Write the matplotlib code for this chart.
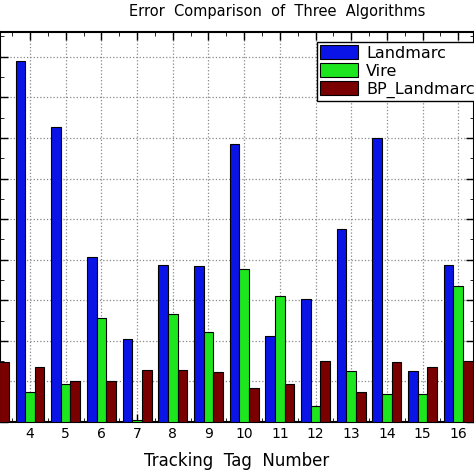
import numpy as np
import matplotlib.pyplot as plt
from matplotlib.ticker import MultipleLocator

tags = np.arange(3, 17)
landmarc = [np.nan, 8.9, 7.26, 4.07, 2.05, 3.88, 3.85, 6.84, 2.12, 3.04, 4.75, 7.0, 1.26, 3.88]
vire = [np.nan, 0.74, 0.94, 2.57, 0.04, 2.65, 2.22, 3.76, 3.1, 0.4, 1.26, 0.68, 0.68, 3.34]
bp_landmarc = [1.47, 1.35, 1.02, 1.02, 1.28, 1.29, 1.23, 0.85, 0.93, 1.51, 0.74, 1.48, 1.36, 1.51]

W, H = 474, 474
fig = plt.figure(figsize=(W / 100, H / 100), dpi=100)
ax = fig.add_axes([0, (H - 422) / H, 1, (422 - 32) / H])

w = 0.27
ax.bar(tags - w, landmarc, w, color='#0a14e6', edgecolor='black', linewidth=0.8, label='Landmarc', zorder=3)
ax.bar(tags, vire, w, color='#1ee61e', edgecolor='black', linewidth=0.8, label='Vire', zorder=3)
ax.bar(tags + w, bp_landmarc, w, color='#7a0000', edgecolor='black', linewidth=0.8, label='BP_Landmarc', zorder=3)

ax.set_xlim(3.16, 16.44)
ax.set_ylim(0, 9.61)
ax.set_xticks(np.arange(4, 17))
ax.xaxis.set_minor_locator(MultipleLocator(0.5))
ax.set_yticks(np.arange(0, 10))
ax.yaxis.set_minor_locator(MultipleLocator(0.5))
ax.tick_params(which='both', direction='in', top=True, right=True, labelsize=10)
ax.tick_params(which='major', length=6, width=1)
ax.tick_params(which='minor', length=3)
ax.set_yticklabels([])
ax.grid(True, which='major', linestyle=':', color='#888888', linewidth=0.9, zorder=0)
for s in ax.spines.values():
    s.set_linewidth(1.5)

ax.set_xlabel('Tracking  Tag  Number', fontsize=12, labelpad=8)
fig.text(0.585, 0.975, 'Error  Comparison  of  Three  Algorithms', ha='center', va='center', fontsize=10.5)

leg = ax.legend(loc='upper right', bbox_to_anchor=(1.025, 0.995), fontsize=11.5, fancybox=False,
                edgecolor='black', framealpha=1, handlelength=2.4, handleheight=1.0,
                labelspacing=0.15, borderpad=0.2, handletextpad=0.5)
leg.get_frame().set_linewidth(1)

fig.savefig('out.png', dpi=100)
